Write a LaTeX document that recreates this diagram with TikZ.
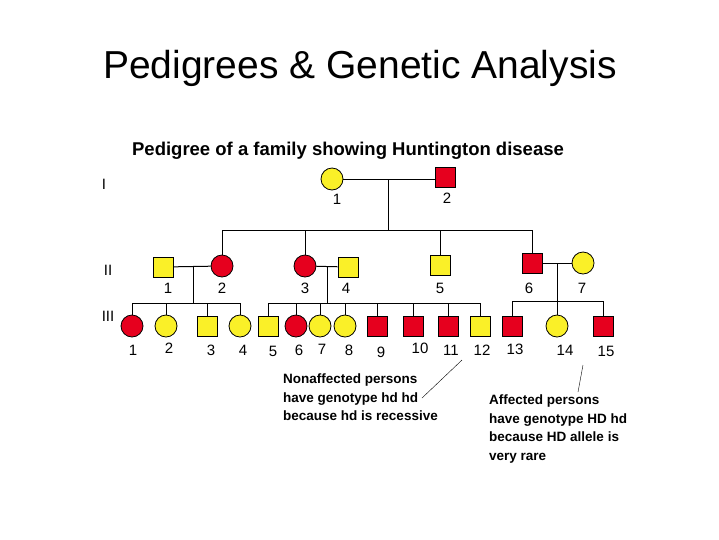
\documentclass[tikz,border=0pt]{standalone}
\usepackage{fontspec}
\setmainfont{Liberation Sans}
\definecolor{aff}{RGB}{230,0,30}
\definecolor{unaff}{RGB}{250,240,40}
\begin{document}
\begin{tikzpicture}[x=1pt,y=-1pt,
  male/.style={draw,thick,minimum size=20pt,inner sep=0pt},
  female/.style={draw,thick,circle,minimum size=22pt,inner sep=0pt},
  A/.style={fill=aff},U/.style={fill=unaff},
  num/.style={font=\fontsize{15}{15}\selectfont},
  ann/.style={font=\bfseries\fontsize{13.5}{18.5}\selectfont,align=left,anchor=north west,inner sep=0pt},
  ln/.style={line width=1pt}]
\useasboundingbox (0,0) rectangle (719,539);
\node (title) at (360,68) {\fontsize{39}{42}\selectfont Pedigrees \& Genetic Analysis};
\node (sub) at (348,151) {\bfseries\fontsize{18.5}{20}\selectfont Pedigree of a family showing Huntington disease};
\node[num] (g1) at (104,184) {I};
\node[num] (g2) at (108,270) {II};
\node[num] (g3) at (108,316) {III};
% Gen I
\node[female,U] (i1) at (332,179) {};
\node[male,A] (i2) at (445,177) {};
\node[num] at (337,199) {1};
\node[num] at (447,198) {2};
\draw[ln] (i1.east) -- (i2.west |- i1.east);
\coordinate (m1) at (388,179);
\coordinate (s1) at (388,230);
\draw[ln] (m1) -- (s1);
\draw[ln] (222,230) -- (532,230);
% Gen II
\node[male,U] (ii1) at (163,267) {};
\node[female,A] (ii2) at (222,266) {};
\node[female,A] (ii3) at (305,266) {};
\node[male,U] (ii4) at (348,267) {};
\node[male,U] (ii5) at (440,265) {};
\node[male,A] (ii6) at (532,263) {};
\node[female,U] (ii7) at (583,263) {};
\foreach \x/\t in {168/1,222/2,305/3,346/4,440/5,529/6,582/7}{\node[num] at (\x,288) {\t};}
\foreach \n/\x in {ii2/222,ii3/305,ii5/440,ii6/532}{\draw[ln] (\x,230) -- (\n);}
\draw[ln] (ii1) -- (ii2); \draw[ln] (ii3) -- (ii4); \draw[ln] (ii6) -- (ii7);
\draw[ln] (193,267) -- (193,303);
\draw[ln] (327,266) -- (327,303);
\draw[ln] (557,263) -- (557,301);
\draw[ln] (132,303) -- (240,303);
\draw[ln] (268,303) -- (480,303);
\draw[ln] (512,301) -- (603,301);
% Gen III
\foreach \n/\x/\s/\c in {1/132/female/A,2/166/female/U,3/207/male/U,4/240/female/U,5/268/male/U,6/296/female/A,7/320/female/U,8/345/female/U,9/377/male/A,10/413/male/A,11/448/male/A,12/480/male/U}{
  \node[\s,\c] (iii\n) at (\x,326) {};
  \draw[ln] (\x,303) -- (iii\n);}
\foreach \n/\x/\s/\c in {13/512/male/A,14/557/female/U,15/603/male/A}{
  \node[\s,\c] (iii\n) at (\x,326) {};
  \draw[ln] (\x,301) -- (iii\n);}
\foreach \x/\t/\y in {133/1/350,169/2/348,211/3/350,243/4/350,273/5/351,299/6/350,322/7/349,349/8/350,381/9/352,420/10/348,451/11/350,482/12/350,515/13/349,565/14/350,606/15/351}{\node[num] at (\x,\y) {\t};}
% annotations
\node[ann] (a1) at (283,374) {Nonaffected persons\\have genotype hd hd\\because hd is recessive};
\node[ann] (a2) at (489,395) {Affected persons\\have genotype HD hd\\because HD allele is\\very rare};
\coordinate (p1a) at (462,360); \coordinate (p1b) at (422,398);
\coordinate (p2a) at (583,365); \coordinate (p2b) at (578,392);
\draw (p1a) -- (p1b); \draw (p2a) -- (p2b);
\end{tikzpicture}
\end{document}
